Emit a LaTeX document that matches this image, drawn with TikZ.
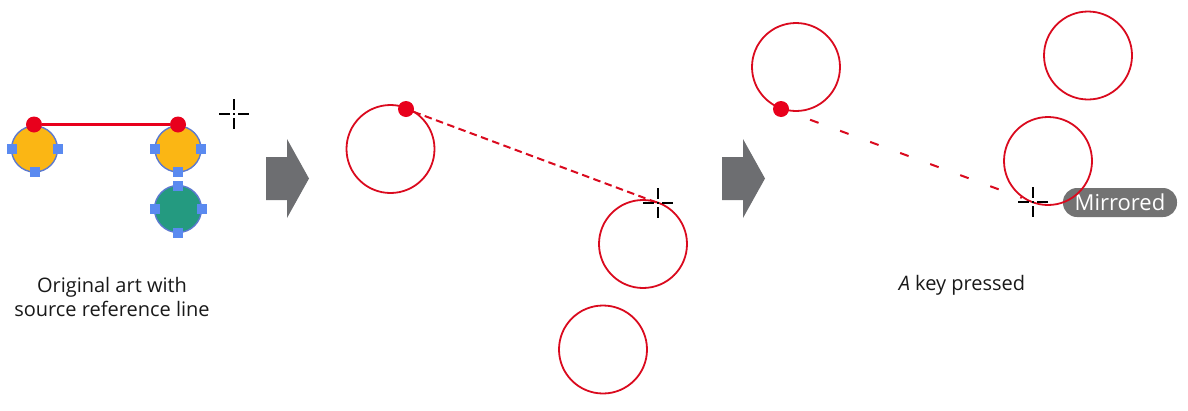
\documentclass[tikz,border=0pt]{standalone}
\usepackage{fontspec}
\setmainfont{Open Sans}
\definecolor{myred}{HTML}{E8001C}
\definecolor{ringred}{HTML}{DA0A1E}
\definecolor{myorange}{HTML}{FBB614}
\definecolor{mygreen}{HTML}{249A80}
\definecolor{handleblue}{HTML}{5A8AF0}
\definecolor{edgeblue}{HTML}{5B79D0}
\definecolor{arrowgray}{HTML}{6D6E71}
\definecolor{badgegray}{HTML}{737373}
\begin{document}
\begin{tikzpicture}[x=1pt,y=-1pt,
  ring/.style={circle,draw=ringred,line width=1.8,minimum size=88,inner sep=0,outer sep=0},
  reddot/.style={circle,fill=myred,minimum size=16,inner sep=0,outer sep=0},
  artcircle/.style={circle,draw=edgeblue,line width=1.4,minimum size=46,inner sep=0,outer sep=0},
  handle/.style={rectangle,fill=handleblue,minimum size=10,inner sep=0},
  label/.style={font=\fontsize{20}{24}\selectfont,align=center,text=black!90},
  badge/.style={rectangle,rounded corners=14,fill=badgegray,text=white,minimum height=29,minimum width=114,inner sep=0,font=\fontsize{22}{24}\selectfont},
  bigarrow/.style={fill=arrowgray},
  xhair/.pic={
    \draw[black,line width=2] (-15,0)--(-4,0) (4,0)--(15,0) (0,-15)--(0,-4) (0,4)--(0,15);
    \fill[black] (-1,-1) rectangle (1,1);
  }]
\useasboundingbox (0,0) rectangle (1188,410);

% ---------- left panel ----------
\node[artcircle,fill=myorange] (o1) at (34.5,149) {};
\node[artcircle,fill=myorange] (o2) at (178,149) {};
\node[artcircle,fill=mygreen,minimum size=47] (g1) at (178,209) {};
\node[handle] (h1) at (o1.west) {};
\node[handle] (h2) at (o1.east) {};
\node[handle] (h3) at (o1.south) {};
\node[handle] (h4) at (o2.west) {};
\node[handle] (h5) at (o2.east) {};
\node[handle] (h6) at (o2.south) {};
\node[handle] (h7) at (g1.north) {};
\node[handle] (h8) at (g1.west) {};
\node[handle] (h9) at (g1.east) {};
\node[handle] (h10) at (g1.south) {};
\node[reddot] (d1) at (34,124.5) {};
\node[reddot] (d2) at (178,124.5) {};
\draw[myred,line width=3] (d1) -- (d2);
\coordinate (x0) at (234,114);
\pic at (x0) {xhair};
\node[label] (t1) at (112,296.5) {Original art with\\source reference line};

% ---------- arrows ----------
\fill[bigarrow] (266,157)--(287,157)--(287,139)--(309,178.5)--(287,218)--(287,200)--(266,200)--cycle;
\fill[bigarrow] (722,157)--(743,157)--(743,139)--(765,178.5)--(743,218)--(743,200)--(722,200)--cycle;

% ---------- middle panel ----------
\node[ring] (m1) at (390.5,149) {};
\node[ring] (m2) at (643,244) {};
\node[ring] (m3) at (603,349.5) {};
\node[reddot] (d3) at (406,109) {};
\coordinate (x1) at (658,203);
\draw[ringred,line width=2,dash pattern=on 7.5 off 4.5] (d3) -- (x1);
\pic at (x1) {xhair};

% ---------- right panel ----------
\node[ring] (r1) at (796,67) {};
\node[ring] (r2) at (1088,55.5) {};
\node[badge] (b1) at (1120,202.5) {Mirrored};
\node[ring] (r3) at (1048,161) {};
\node[reddot] (d4) at (781,109) {};
\coordinate (x2) at (1033,202);
\draw[ringred,line width=2,dash pattern=on 9 off 23,dash phase=9,shorten >=12] (d4) -- (x2);
\pic at (x2) {xhair};
\node[label] (t2) at (962,285) {\textit{A} key pressed};
\end{tikzpicture}
\end{document}
